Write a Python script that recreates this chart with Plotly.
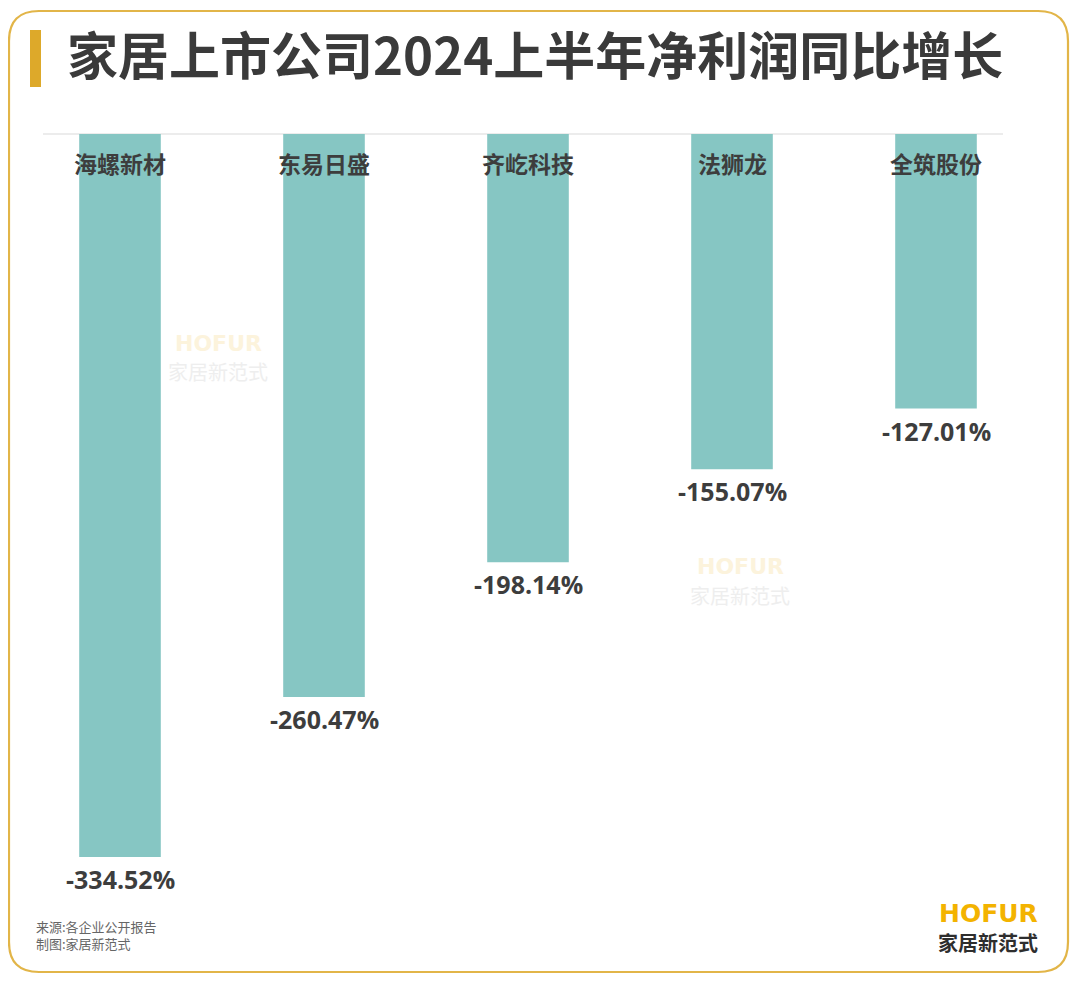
import plotly.graph_objects as go

companies = ["海螺新材", "东易日盛", "齐屹科技", "法狮龙", "全筑股份"]
growth = [-334.52, -260.47, -198.14, -155.07, -127.01]
value_labels = [f"{v:.2f}%" for v in growth]

title = "家居上市公司2024上半年净利润同比增长"
source_lines = ["来源:各企业公开报告", "制图:家居新范式"]

OFF = 8  # page body margin
W, H = 1080 - OFF, 983 - OFF
FONT = "Noto Sans CJK SC"
BAR = "#86C6C3"
DARK = "#3d3d3d"
GOLD = "#E2B548"


def px(x):
    return (x - OFF) / W


def py(y):
    return 1 - (y - OFF) / H


fig = go.Figure()
fig.add_trace(go.Bar(x=companies, y=growth, marker=dict(color=BAR, line=dict(width=0)),
                     hoverinfo="skip", showlegend=False))

zero_px, scale = 134, 2.1613
ymin = -380
fig.update_layout(
    width=W, height=H,
    margin=dict(l=0, r=0, t=0, b=0),
    paper_bgcolor="white", plot_bgcolor="white",
    bargap=0.6,
    xaxis=dict(domain=[px(18), px(1038)], visible=False, fixedrange=True),
    yaxis=dict(domain=[py(zero_px - ymin * scale), py(zero_px)], range=[ymin, 0],
               visible=False, fixedrange=True),
    font=dict(family=FONT),
)

annotations = []
for c, v, lab in zip(companies, growth, value_labels):
    annotations.append(dict(x=c, y=0, xref="x", yref="y", text=f"<b>{c}</b>", showarrow=False,
                            yanchor="middle", yshift=-29,
                            font=dict(family=FONT, size=23, color=DARK)))
    annotations.append(dict(x=c, y=v, xref="x", yref="y", text=f"<b>{lab}</b>", showarrow=False,
                            yanchor="middle", yshift=-22,
                            font=dict(family="Open Sans", size=25, color=DARK)))

annotations.append(dict(x=px(65), y=py(53), xref="paper", yref="paper", text=f"<b>{title}</b>",
                        showarrow=False, xanchor="left", yanchor="middle",
                        font=dict(family=FONT, size=51, color="#3a3a3a")))
annotations.append(dict(x=px(34), y=py(935), xref="paper", yref="paper",
                        text="<br>".join(source_lines), showarrow=False, xanchor="left",
                        yanchor="middle", align="left",
                        font=dict(family=FONT, size=13, color="#666666")))
# logo
annotations.append(dict(x=px(988), y=py(913), xref="paper", yref="paper", text="<b>HOFUR</b>",
                        showarrow=False, xanchor="center", yanchor="middle", borderpad=0,
                        font=dict(family="DejaVu Sans", size=25, color="#F3B300")))
annotations.append(dict(x=px(988), y=py(942), xref="paper", yref="paper", text="<b>家居新范式</b>",
                        showarrow=False, xanchor="center", yanchor="middle", borderpad=0,
                        font=dict(family=FONT, size=20, color="#2e2e2e")))
# watermarks
for cx, cy in [(218, 343), (740, 566)]:
    annotations.append(dict(x=px(cx), y=py(cy), xref="paper", yref="paper", text="<b>HOFUR</b>",
                            showarrow=False, xanchor="center", yanchor="middle", borderpad=0,
                            font=dict(family="DejaVu Sans", size=22, color="#FCF3DC")))
    annotations.append(dict(x=px(cx), y=py(cy + 29), xref="paper", yref="paper", text="家居新范式",
                            showarrow=False, xanchor="center", yanchor="middle", borderpad=0,
                            font=dict(family=FONT, size=20, color="#EEEEEE")))
fig.update_layout(annotations=annotations)

# rounded frame
x0, x1, y0, y1, r = 9, 1068, 11, 972, 30
rx, ry = r / W, r / H
X0, X1, Y0, Y1 = px(x0), px(x1), py(y0), py(y1)
path = (f"M {X0+rx},{Y0} L {X1-rx},{Y0} Q {X1},{Y0} {X1},{Y0-ry} "
        f"L {X1},{Y1+ry} Q {X1},{Y1} {X1-rx},{Y1} "
        f"L {X0+rx},{Y1} Q {X0},{Y1} {X0},{Y1+ry} "
        f"L {X0},{Y0-ry} Q {X0},{Y0} {X0+rx},{Y0} Z")
shapes = [
    dict(type="path", path=path, xref="paper", yref="paper", line=dict(color=GOLD, width=2.2),
         layer="below"),
    dict(type="rect", xref="paper", yref="paper", x0=px(30), x1=px(41), y0=py(87), y1=py(30),
         fillcolor="#DDA92A", line=dict(width=0)),
    dict(type="line", xref="paper", yref="paper", x0=px(43), x1=px(1003), y0=py(zero_px),
         y1=py(zero_px), line=dict(color="#D9D9D9", width=1), layer="below"),
]
fig.update_layout(shapes=shapes)

fig.write_html("out.html", config=dict(displayModeBar=False))
